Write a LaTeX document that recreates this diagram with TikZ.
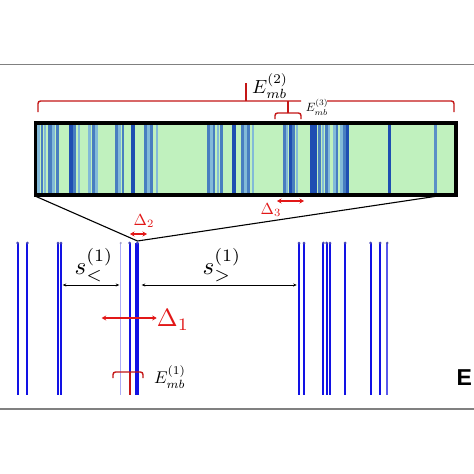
\documentclass[tikz,border=0pt]{standalone}
\usepackage{fontspec}
\newfontfamily\labelsans{Liberation Sans}
\usetikzlibrary{arrows.meta}
\definecolor{bandgreen}{RGB}{192,241,190}
\definecolor{sdark}{RGB}{30,78,178}
\definecolor{smid}{RGB}{72,126,192}
\definecolor{slight}{RGB}{130,186,216}
\definecolor{levelblue}{RGB}{18,18,228}
\definecolor{bracered}{RGB}{196,22,22}
\definecolor{deltared}{RGB}{226,24,24}
\tikzset{
  redarrow/.style={draw=deltared, line width=1.2pt, {Stealth[length=4.5pt,width=5pt]}-{Stealth[length=4.5pt,width=5pt]}},
  gaparrow/.style={draw=black, line width=0.8pt, {Stealth[length=3.5pt,width=3pt]}-{Stealth[length=3.5pt,width=3pt]}},
  brace/.style={draw=bracered, line width=1.4pt, rounded corners=2.5pt},
  lbl/.style={inner sep=0pt, scale=#1/10},
}
\begin{document}
\begin{tikzpicture}[x=1pt,y=-1pt]
    \useasboundingbox (0,0) rectangle (474,474);
    \fill[white] (0,0) rectangle (474,474);
    \draw[gray, line width=1.5pt] (0,64.5) -- (474,64.5);
    \draw[gray, line width=1.5pt] (0,409) -- (474,409);
    % zoomed band of levels
    \coordinate (bandtl) at (35.5,123);
    \coordinate (bandbr) at (456,195);
    \fill[bandgreen] (bandtl) rectangle (bandbr);
    \foreach \x/\w/\c in {38.5/3.5/slight, 42/2.5/smid, 45/2.5/slight, 50/5/smid, 53.5/2.5/slight,
        57/3/smid, 71/4.5/sdark, 74.5/3/smid, 79/2.5/slight, 89/3/slight, 93/3/smid, 96.5/3/slight,
        116/3/smid, 119.5/3/slight, 123/2.5/smid, 133/4/sdark, 145/3/smid, 148.5/2.5/slight,
        151.5/3/smid, 157/2.5/slight, 208/3/smid, 211/3/slight, 214/2.5/smid, 218/2.5/slight,
        221/3/smid, 234/3.5/sdark, 242/3/smid, 245/3/slight, 248/3/smid, 253/2.5/slight,
        284/3/smid, 287/2.5/slight, 290/3/sdark, 293/3/smid, 297/2.5/slight, 312/3.5/sdark,
        315.5/3/sdark, 319/3/smid, 323/2.5/slight, 326/3/smid, 329/2.5/slight, 334/3/slight,
        337/2.5/smid, 341/3/slight, 344/3/smid, 347/3/sdark, 389/3/sdark, 435/3/smid!70!slight}
      \draw[\c, line width=\w pt] (\x,123) -- (\x,195);
    \draw[line width=3.5pt] (bandtl) rectangle (bandbr);
    % zoom lines
    \coordinate (apex) at (137.5,241);
    \draw[line width=1.1pt] (35,196) -- (apex) -- (438,196);
    % levels
    \foreach \x/\w in {17.7/1.8, 27.3/1.8, 58/2.8, 61/2.8, 129.7/2.2, 137.3/3.8, 299/2.4, 304/2.8,
        323.3/2, 326.7/2, 330/2, 345/2.8, 370.7/2, 380/2.8} {
      \draw[levelblue, line width=\w pt] (\x,243) -- (\x,395);
      \fill[levelblue!55!gray] (\x,243) circle (1.5pt);
    }
    \draw[levelblue!35!white, line width=1pt] (120.7,243) -- (120.7,395);
    \fill[levelblue!30!gray!60!white] (120.7,243) circle (1.2pt);
    \draw[levelblue!70!white, line width=2pt] (387.3,243) -- (387.3,395);
    \fill[levelblue!45!gray] (387.3,243) circle (1.4pt);
    % braces
    \draw[brace] (38,112) -- (38,101) -- (301,101);
    \draw[brace] (327,101) -- (454,101) -- (454,112);
    \draw[brace] (246,101) -- (246,83);
    \draw[brace] (275,119) -- (275,113) -- (301,113) -- (301,119);
    \draw[brace] (288,113) -- (288,101);
    \draw[brace] (113,378) -- (113,372) -- (143,372) -- (143,378);
    \draw[brace] (130,372) -- (130,395);
    \node[lbl=19] (emb2) at (270,86) {$E_{mb}^{(2)}$};
    \node[lbl=12] (emb3) at (317,107.5) {$E_{mb}^{(3)}$};
    \node[lbl=17] (emb1) at (170,377) {$E_{mb}^{(1)}$};
    % spacings
    \draw[gaparrow] (62.7,285) -- (119.3,285);
    \draw[gaparrow] (141.7,285) -- (296.7,285);
    \node[lbl=25] (sless) at (94,265) {$s_{<}^{(1)}$};
    \node[lbl=25] (smore) at (222,265) {$s_{>}^{(1)}$};
    % deltas
    \draw[redarrow] (101.7,318) -- (156.7,318);
    \draw[redarrow] (130,234) -- (147,234);
    \draw[redarrow] (277,201) -- (304,201);
    \node[lbl=25, text=deltared] (d1) at (173,320) {$\Delta_1$};
    \node[lbl=16, text=deltared] (d2) at (144,221) {$\Delta_2$};
    \node[lbl=16, text=deltared] (d3) at (271,210) {$\Delta_3$};
    \node[inner sep=0pt, anchor=west, font=\labelsans\bfseries\fontsize{23}{23}\selectfont] (tag) at (456.5,377.5) {E};
\end{tikzpicture}
\end{document}
